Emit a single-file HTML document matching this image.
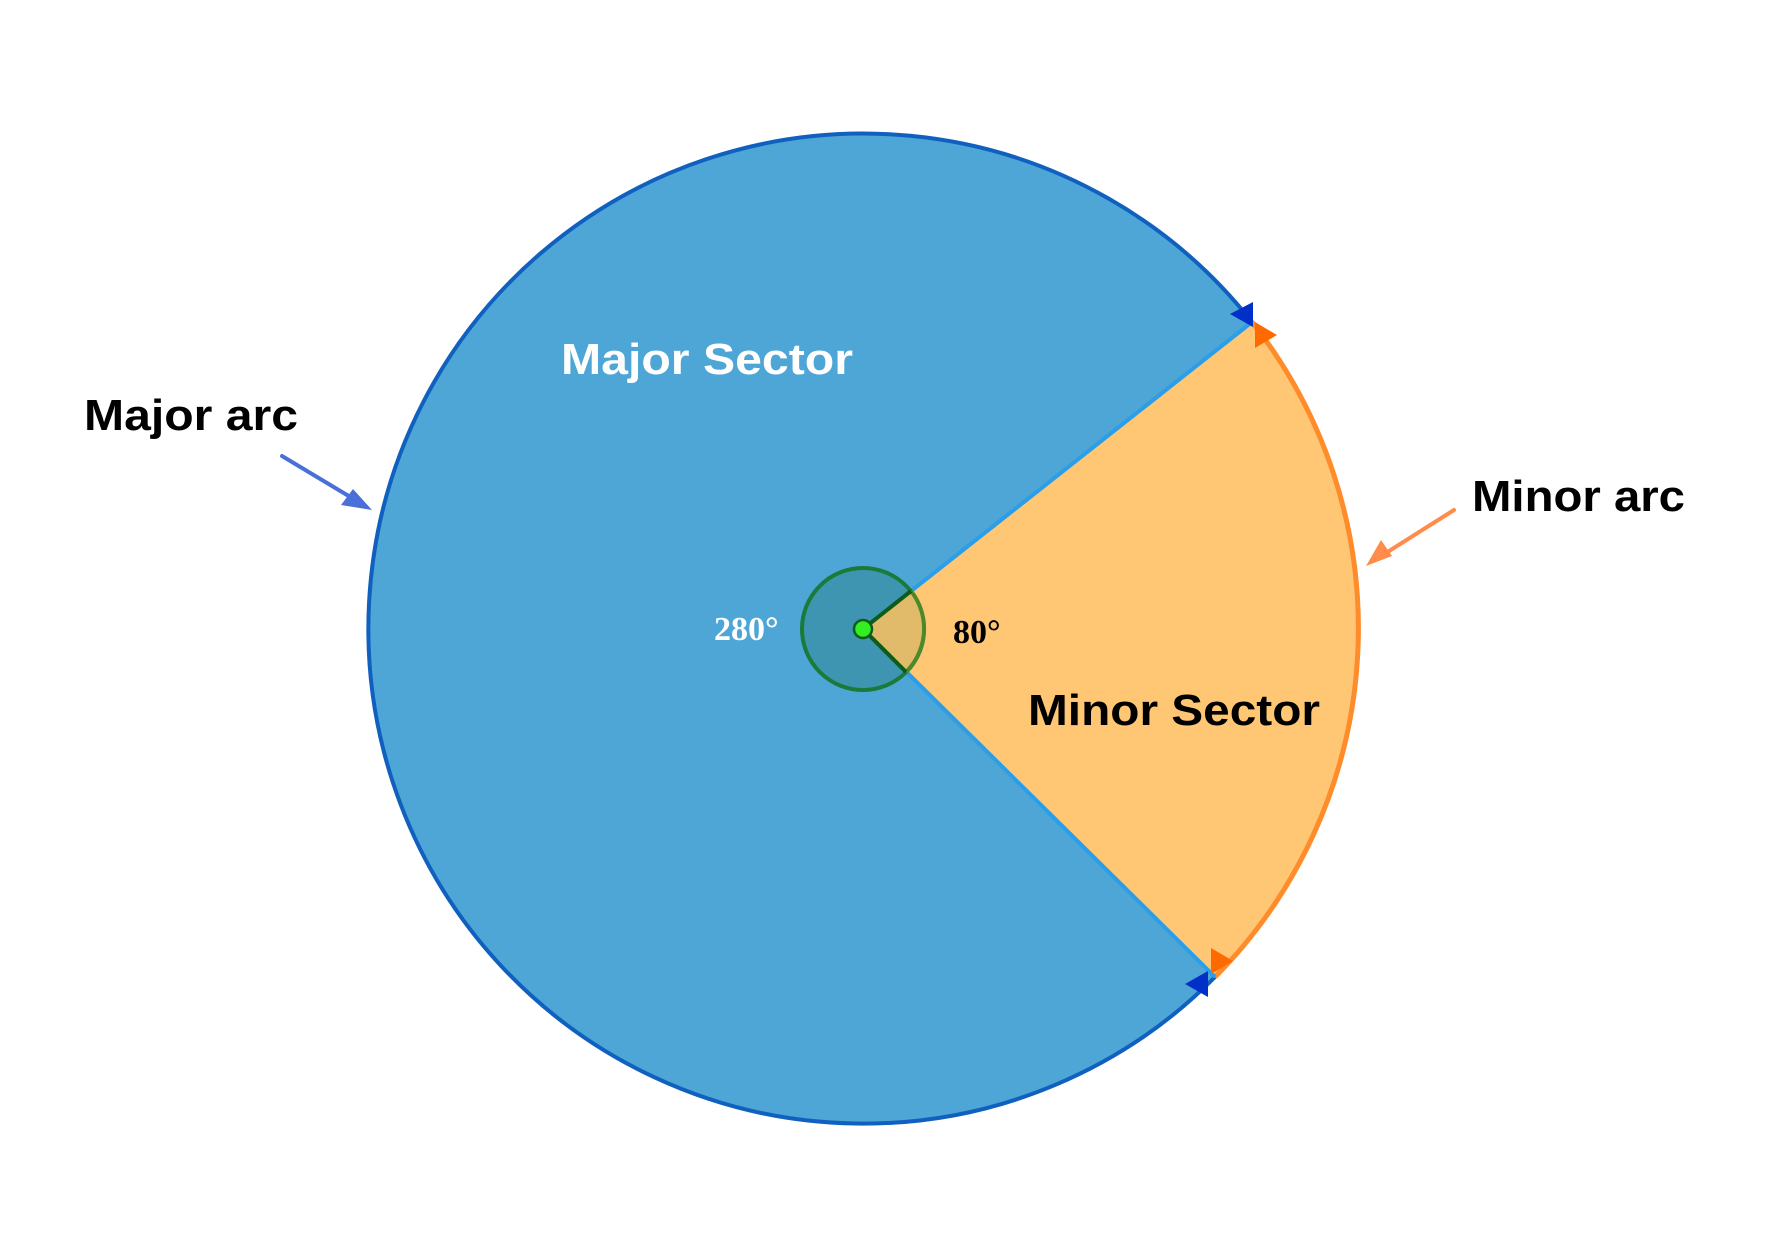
<!DOCTYPE html>
<html><head><meta charset="utf-8"><style>html,body{margin:0;padding:0;background:#fff}svg{display:block}</style></head>
<body>
<svg width="1786" height="1260" viewBox="0 0 1786 1260" xmlns="http://www.w3.org/2000/svg">
<path d="M863,629 L1252,322 A495,495 0 1,0 1215,977 Z" fill="#4DA6D6"/>
<path d="M863,629 L1252,322 A495,495 0 0,1 1215,977 Z" fill="#FFC673"/>
<path d="M1252,322 A495,495 0 1,0 1215,977" fill="none" stroke="#1060C0" stroke-width="4"/>
<path d="M1252,322 A495,495 0 0,1 1215,977" fill="none" stroke="#FF8C2A" stroke-width="5"/>
<line x1="863" y1="629" x2="1252" y2="322" stroke="#2a9ee8" stroke-width="4"/>
<line x1="863" y1="629" x2="1215" y2="977" stroke="#2a9ee8" stroke-width="4"/>
<circle cx="863" cy="629" r="61" fill="#3a8fa5" fill-opacity="0.75" stroke="#1a7a3a" stroke-width="4"/>
<path d="M863,629 L911,591 A61,61 0 0,1 906,672 Z" fill="#e2bb6a" stroke="none"/>
<path d="M911,591 A61,61 0 0,1 906,672" fill="none" stroke="#4a8a2a" stroke-width="4"/>
<line x1="863" y1="629" x2="911" y2="591" stroke="#0d5c1a" stroke-width="4"/>
<line x1="863" y1="629" x2="906" y2="672" stroke="#0d5c1a" stroke-width="4"/>
<circle cx="863" cy="629" r="9" fill="#33ee22" stroke="#0d5c1a" stroke-width="2.5"/>
<polygon points="1253,302 1253,327 1230,314" fill="#0030C8"/>
<polygon points="1255,322 1255,348 1277,335" fill="#FF6A00"/>
<polygon points="1211,948 1211,974 1233,961" fill="#FF6A00"/>
<polygon points="1208,971 1208,997 1185,984" fill="#0030C8"/>
<line x1="282" y1="456" x2="352" y2="498" stroke="#4a6fd8" stroke-width="4" stroke-linecap="round"/>
<polygon points="372,510 341,505 353,489" fill="#4a6fd8"/>
<line x1="1454" y1="510" x2="1386" y2="553" stroke="#FF8C4a" stroke-width="4" stroke-linecap="round"/>
<polygon points="1366,566 1381,540 1392,556" fill="#FF8C4a"/>
<g font-family="Liberation Sans, sans-serif" font-weight="bold" font-size="44">
<text x="561" y="374" fill="#fff" textLength="292" lengthAdjust="spacingAndGlyphs">Major Sector</text>
<text x="84" y="430" fill="#000" textLength="214" lengthAdjust="spacingAndGlyphs">Major arc</text>
<text x="1472" y="511" fill="#000" textLength="213" lengthAdjust="spacingAndGlyphs">Minor arc</text>
<text x="1028" y="725" fill="#000" textLength="292" lengthAdjust="spacingAndGlyphs">Minor Sector</text>
</g>
<g font-family="Liberation Serif, serif" font-weight="bold" font-size="34">
<text x="714" y="640" fill="#fff">280°</text>
<text x="953" y="643" fill="#000">80°</text>
</g>
</svg>
</body></html>
